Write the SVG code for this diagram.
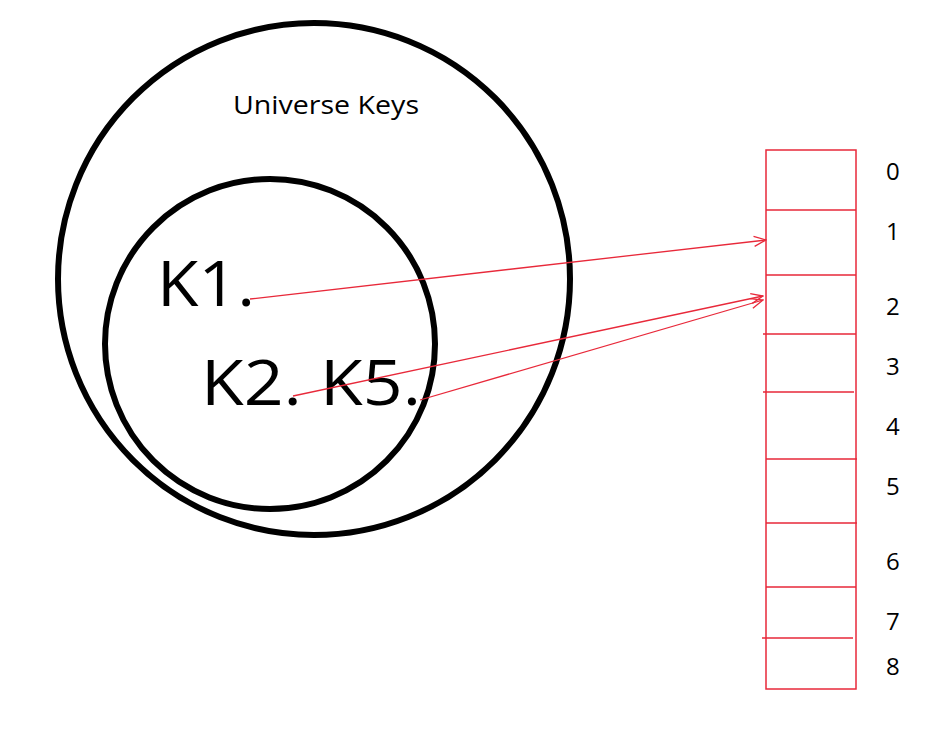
<svg xmlns="http://www.w3.org/2000/svg" width="933" height="729" viewBox="0 0 933 729">
<style>
.c{fill:none;stroke:#000;stroke-width:6}
.t{stroke:#e8293a;stroke-width:1.5;fill:none}
.a{stroke:#e8293a;stroke-width:1.3;fill:none}
.k{font-family:"Open Sans","Liberation Sans",sans-serif;font-size:62px;fill:#000}
.n{font-family:"Open Sans","Liberation Sans",sans-serif;font-size:24px;fill:#000}
</style>
<defs><marker id="ar" markerWidth="14" markerHeight="12" refX="13" refY="6" orient="auto" markerUnits="userSpaceOnUse"><path d="M1,1 L13,6 L1,11" fill="none" stroke="#e8293a" stroke-width="1.3"/></marker></defs>
<g id="universe"><circle class="c" cx="314" cy="279" r="256"/><text x="233" y="114" textLength="186" lengthAdjust="spacingAndGlyphs" style="font-family:'Open Sans','Liberation Sans',sans-serif;font-size:26px">Universe Keys</text></g>
<g id="subset"><circle class="c" cx="270" cy="344" r="165"/>
<text class="k" x="157" y="306" textLength="98" lengthAdjust="spacingAndGlyphs">K1.</text>
<text class="k" x="201" y="405" textLength="220" lengthAdjust="spacingAndGlyphs">K2. K5.</text></g>
<g id="table">
<rect class="t" x="766" y="150" width="90" height="539"/>
<path class="t" d="M766 210H856M766 275H856M763 334H856M763 392H854M766 459H857M766 523H857M766 587H856M762 638H853"/>
<g class="n"><text x="886" y="180">0</text><text x="886" y="240">1</text><text x="886" y="315">2</text><text x="886" y="375">3</text><text x="886" y="435">4</text><text x="886" y="495">5</text><text x="886" y="570">6</text><text x="886" y="630">7</text><text x="886" y="675">8</text></g></g>
<g id="connectors">
<line class="a" x1="250" y1="299" x2="766" y2="240" marker-end="url(#ar)"/>
<line class="a" x1="293" y1="396" x2="763" y2="296" marker-end="url(#ar)"/>
<line class="a" x1="420" y1="400" x2="763" y2="300" marker-end="url(#ar)"/>
</g>
</svg>
